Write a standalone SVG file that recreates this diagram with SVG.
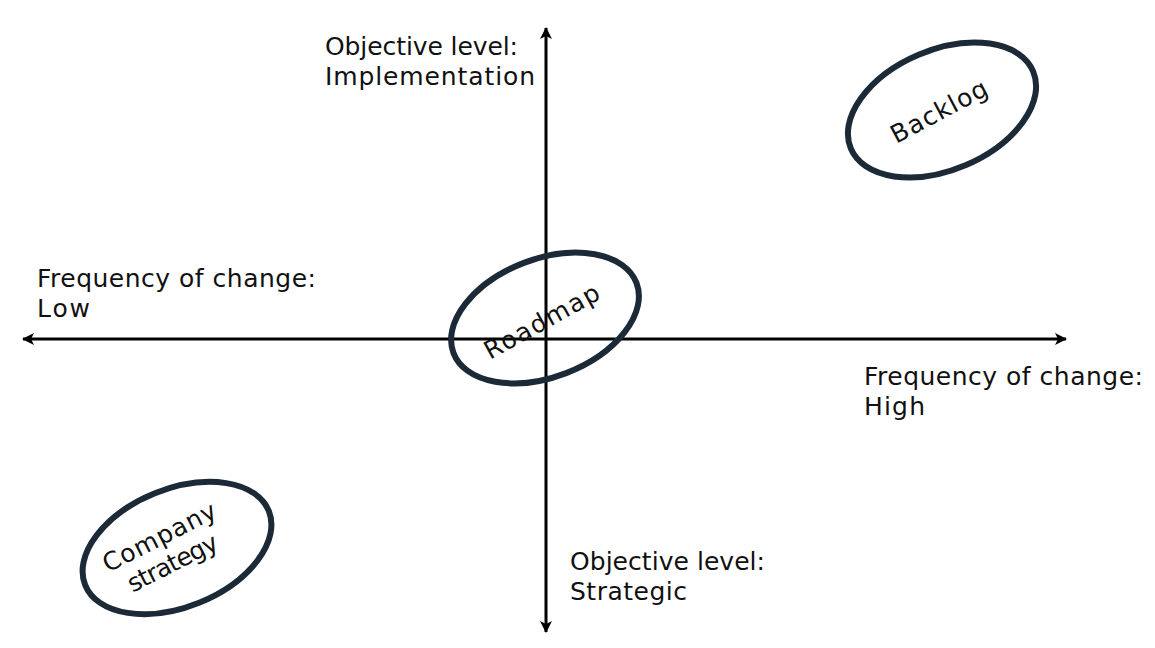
<svg xmlns="http://www.w3.org/2000/svg" width="1155" height="648" viewBox="0 0 1155 648">
<style>
.lbl{font-family:"DejaVu Sans","Liberation Sans",sans-serif;font-size:25px;fill:#111;}
.nlbl{font-family:"DejaVu Sans","Liberation Sans",sans-serif;font-size:25px;fill:#111;text-anchor:middle;}
.ell{fill:none;stroke:#1c2a38;stroke-width:6;}
.axis{stroke:#000;stroke-width:3;fill:none;}
</style>
<defs>
<marker id="ah" viewBox="0 0 12 12" refX="11" refY="6" markerWidth="12" markerHeight="12" markerUnits="userSpaceOnUse" orient="auto-start-reverse">
<path d="M0,0 L12,6 L0,12 L3,6 Z" fill="#000"/>
</marker>
</defs>
<rect width="1155" height="648" fill="#fff"/>
<g id="connectors">
<line class="axis" x1="23" y1="339" x2="1066" y2="339" marker-start="url(#ah)" marker-end="url(#ah)"/>
<line class="axis" x1="546" y1="632" x2="546" y2="28" marker-start="url(#ah)" marker-end="url(#ah)"/>
</g>
<g id="axis-labels">
<text class="lbl" x="325" y="55" textLength="193">Objective level:</text>
<text class="lbl" x="325" y="85" textLength="210">Implementation</text>
<text class="lbl" x="37" y="287" textLength="279">Frequency of change:</text>
<text class="lbl" x="37" y="317" textLength="53">Low</text>
<text class="lbl" x="864" y="385" textLength="279">Frequency of change:</text>
<text class="lbl" x="864" y="415" textLength="61">High</text>
<text class="lbl" x="570" y="570" textLength="195">Objective level:</text>
<text class="lbl" x="570" y="600" textLength="117">Strategic</text>
</g>
<g id="roadmap">
<ellipse class="ell" cx="545" cy="318" rx="98" ry="59" transform="rotate(-21 545 318)"/>
<text class="nlbl" x="0" y="0" textLength="128" transform="translate(546 329) rotate(-29)">Roadmap</text>
</g>
<g id="backlog">
<ellipse class="ell" cx="942" cy="110" rx="99" ry="60" transform="rotate(-23 942 110)"/>
<text class="nlbl" x="0" y="0" textLength="106" transform="translate(943 119) rotate(-28)">Backlog</text>
</g>
<g id="company-strategy">
<ellipse class="ell" cx="177" cy="548" rx="99" ry="59" transform="rotate(-22 177 548)"/>
<text class="nlbl" transform="translate(166 550) rotate(-27)"><tspan x="0" y="-6" textLength="124">Company</tspan><tspan x="0" y="23" textLength="98">strategy</tspan></text>
</g>
</svg>
